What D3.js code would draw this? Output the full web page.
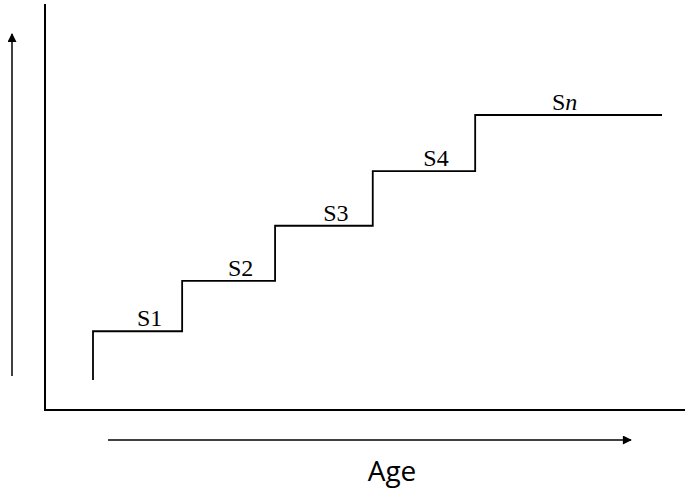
<!DOCTYPE html>
<html>
<head>
<meta charset="utf-8">
<script src="https://cdn.jsdelivr.net/npm/d3@7"></script>
<style>
  body { margin: 0; background: #fff; }
</style>
</head>
<body>
<div id="chart"></div>
<script>
// step edges along age, and stage levels
const stepEdges = [0, 0.94, 1.92, 2.95, 4.03, 6];
const stageLevels = [0, 0.92, 1.87, 2.91, 3.94, 5];
const stageLabels = ["S1", "S2", "S3", "S4", "Sn"];

const width = 685, height = 492;
const svg = d3.select("#chart").append("svg")
    .attr("width", width).attr("height", height);

const x = d3.scaleLinear().domain([0, 6]).range([93, 662]);
const y = d3.scaleLinear().domain([0, 5]).range([380, 115]);

const defs = svg.append("defs");
defs.append("marker")
    .attr("id", "arrow")
    .attr("viewBox", "0 0 10 10")
    .attr("refX", 9).attr("refY", 5)
    .attr("markerWidth", 14).attr("markerHeight", 9)
    .attr("markerUnits", "userSpaceOnUse")
    .attr("orient", "auto")
    .append("path")
    .attr("d", "M0,0 L10,5 L0,10 z")
    .attr("fill", "#000");

// frame axes
svg.append("path")
    .attr("d", "M45,4 L45,410 L685,410")
    .attr("fill", "none").attr("stroke", "#000").attr("stroke-width", 2);

// direction arrows
svg.append("line")
    .attr("x1", 12).attr("y1", 376).attr("x2", 12).attr("y2", 34)
    .attr("stroke", "#000").attr("stroke-width", 1.5)
    .attr("marker-end", "url(#arrow)");
svg.append("line")
    .attr("x1", 108).attr("y1", 440).attr("x2", 631).attr("y2", 440)
    .attr("stroke", "#000").attr("stroke-width", 1.5)
    .attr("marker-end", "url(#arrow)");

// staircase
const pts = [[stepEdges[0], stageLevels[0]]];
for (let i = 1; i < stageLevels.length; i++) {
    pts.push([stepEdges[i - 1], stageLevels[i]]);
    pts.push([stepEdges[i], stageLevels[i]]);
}
svg.append("path")
    .attr("d", d3.line().x(d => x(d[0])).y(d => y(d[1]))(pts))
    .attr("fill", "none").attr("stroke", "#000").attr("stroke-width", 1.8);

// labels
stageLabels.forEach(function(lbl, i) {
    const t = svg.append("text")
        .attr("x", (x(stepEdges[i]) + x(stepEdges[i + 1])) / 2 + (i === 4 ? -4 : 12))
        .attr("y", y(stageLevels[i + 1]) - 5)
        .attr("text-anchor", "middle")
        .attr("font-family", "Liberation Serif, serif")
        .attr("font-size", 24);
    if (lbl === "Sn") {
        t.append("tspan").text("S");
        t.append("tspan").attr("font-style", "italic").text("n");
    } else {
        t.text(lbl);
    }
});

svg.append("text")
    .attr("x", 392).attr("y", 481)
    .attr("text-anchor", "middle")
    .attr("font-family", "Open Sans, sans-serif")
    .attr("font-size", 28)
    .text("Age");
</script>
</body>
</html>
